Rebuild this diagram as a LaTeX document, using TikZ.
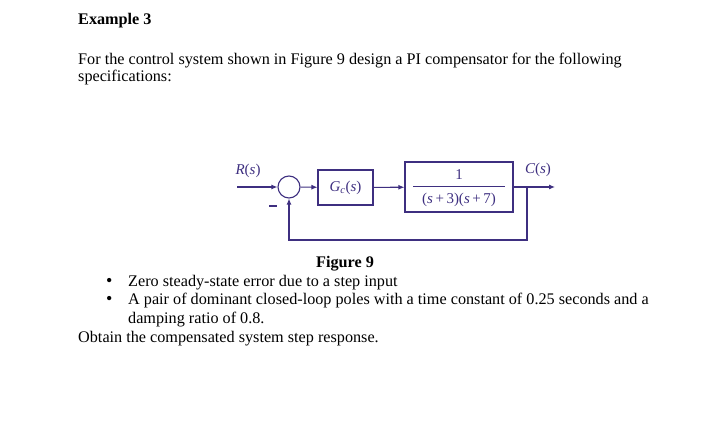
\documentclass[tikz,border=0pt]{standalone}
\usepackage{fontspec}
\setmainfont{Liberation Serif}
\usetikzlibrary{arrows.meta}
\definecolor{dg}{HTML}{3E2F80}
\newcommand{\iv}[1]{\textit{#1}}
\tikzset{x=1pt,y=-1pt,
 txt/.style={anchor=base west,inner sep=0,font=\fontsize{16.2}{18}\selectfont},
 blk/.style={draw=dg,line width=1.1pt,text=dg,inner sep=0,font=\fontsize{15}{16}\selectfont},
 sig/.style={draw=dg,line width=1.1pt,-{Latex[length=6pt,width=5pt]}},
 lab/.style={text=dg,inner sep=0,font=\fontsize{15}{16}\selectfont}}
\begin{document}
\begin{tikzpicture}
\useasboundingbox (0,0) rectangle (720,427);
\node[txt,font=\fontsize{16.2}{18}\selectfont\bfseries] (t0) at (78,25) {Example 3};
\node[txt] (t1) at (78,65) {For the control system shown in Figure 9 design a PI compensator for the following};
\node[txt] (t2) at (78,82) {specifications:};
\coordinate (in) at (237,187);
\node[draw=dg,line width=1.1pt,circle,minimum size=22pt,inner sep=0] (sum) at (289,187) {};
\node[blk,minimum width=55pt,minimum height=35pt] (gc) at (345.5,187.5) {\iv{G}\textsubscript{\iv{c}}(\iv{s})};
\node[blk,minimum width=108pt,minimum height=50pt] (g) at (459,187) {};
\node[lab] (num) at (459,175) {1};
\draw[dg,line width=0.7pt] (413,186) -- (505,186);
\node[lab] (den) at (459,200) {(\iv{s}\,+\,3)(\iv{s}\,+\,7)};
\coordinate (out) at (555,187);
\coordinate (br) at (527,187);
\coordinate (fb1) at (527,240);
\coordinate (fb2) at (289,240);
\draw[sig] (in) -- (sum);
\draw[sig] (sum) -- (gc);
\draw[sig] (gc) -- (g);
\draw[sig] (g) -- (out);
\draw[sig] (br) -- (fb1) -- (fb2) -- (sum);
\node[lab] (R) at (248,171) {\iv{R}(\iv{s})};
\node[lab] (C) at (538,170) {\iv{C}(\iv{s})};
\node[draw=dg,line width=1.3pt,minimum width=7pt,inner sep=0] (m) at (273,206) {};
\node[txt,font=\fontsize{16.2}{18}\selectfont\bfseries,anchor=base] (f9) at (345,268) {Figure 9};
\node[txt,font=\fontsize{18}{18}\selectfont] (b1) at (106,287) {\textbullet};
\node[txt] (l1) at (128,287) {Zero steady-state error due to a step input};
\node[txt,font=\fontsize{18}{18}\selectfont] (b2) at (106,305) {\textbullet};
\node[txt] (l2) at (128,305) {A pair of dominant closed-loop poles with a time constant of 0.25 seconds and a};
\node[txt] (l3) at (128,324) {damping ratio of 0.8.};
\node[txt] (l4) at (78,343) {Obtain the compensated system step response.};
\end{tikzpicture}
\end{document}
